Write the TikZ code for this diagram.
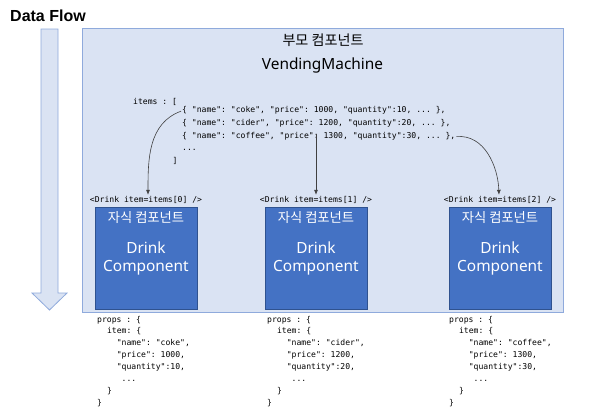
\documentclass[tikz,border=0pt]{standalone}
\usepackage{fontspec}
\setmainfont{Noto Sans}
\newfontfamily\krfont{Noto Sans CJK KR}
\newfontfamily\codefam{DejaVu Sans Mono}
\newfontfamily\headfam{Liberation Sans}
\usetikzlibrary{arrows.meta,calc}
\definecolor{panelfill}{HTML}{DAE3F3}
\definecolor{panelline}{HTML}{8FAADC}
\definecolor{childfill}{HTML}{4472C4}
\definecolor{childline}{HTML}{2F528F}
\definecolor{arrowgray}{HTML}{404040}
\frenchspacing
\begin{document}
\begin{tikzpicture}[x=1pt,y=-1pt,
  codeline/.style={font=\codefam\frenchspacing\fontsize{8.1}{10}\selectfont,inner sep=0pt,anchor=west,text height=6pt,text depth=2pt},
  childbox/.style={draw=childline,fill=childfill,line width=0.8pt,minimum width=102pt,minimum height=102pt,inner sep=0pt},
  childkr/.style={font=\krfont\fontsize{13.3}{15}\selectfont,text=white,inner sep=0pt},
  childen/.style={font=\fontsize{15.4}{18}\selectfont,text=white,inner sep=0pt},
  link/.style={draw=arrowgray,line width=0.6pt,-{Latex[length=5pt,width=4pt]}}
]
\useasboundingbox (0,0) rectangle (600,415);
\fill[white] (0,0) rectangle (600,415);

% Data Flow label and arrow
\node[font=\headfam\bfseries\fontsize{16}{18}\selectfont,anchor=west,inner sep=0pt] (df) at (10,15.5) {Data Flow};
\draw[fill=panelfill,draw=panelline,line width=0.8pt]
  (41,29) -- (58,29) -- (58,293) -- (67,293) -- (49.5,310) -- (32,293) -- (41,293) -- cycle;

% parent panel
\node[draw=panelline,fill=panelfill,line width=0.8pt,minimum width=481pt,minimum height=284pt,inner sep=0pt,anchor=north west] (panel) at (82,28) {};
\node[font=\krfont\fontsize{14.1}{16}\selectfont,inner sep=0pt] (t1) at (323,40) {부모 컴포넌트};
\node[font=\fontsize{15.4}{18}\selectfont,inner sep=0pt] (t2) at (322.5,65) {VendingMachine};

% items code
\node[codeline] (i0) at (133,102) {items : [};
\node[codeline] (i1) at (182,110.7) {\{ "name": "coke", "price": 1000, "quantity":10, ... \},};
\node[codeline] (i2) at (182,123.4) {\{ "name": "cider", "price": 1200, "quantity":20, ... \},};
\node[codeline] (i3) at (182,136.1) {\{ "name": "coffee", "price": 1300, "quantity":30, ... \},};
\node[codeline] (i4) at (182,148.8) {...};
\node[codeline] (i5) at (172.5,161.5) {]};

% child boxes
\foreach \n/\cx/\k in {1/146/0,2/316/1,3/500/2}{
  \node[codeline,anchor=center] (l\n) at (\cx,200) {<Drink item=items[\k] />};
  \node[childbox] (c\n) at (\cx,258) {};
  \node[childkr] (k\n) at (\cx,218) {자식 컴포넌트};
  \node[childen] (d\n) at (\cx,248) {Drink};
  \node[childen] (e\n) at (\cx,268) {Component};
}

% connectors
\coordinate (s2) at (316,134);
\draw[link] ($(i1.west)+(-1,0.5)$) to[out=200,in=90] ($(l1.north)+(2,-1)$);
\draw[link] (s2) -- ($(l2.north)+(0,-1)$);
\draw[link] ($(i3.east)+(1,0.5)$) to[out=5,in=92] ($(l3.north)+(-1,-1)$);

% props blocks
\foreach \n/\px/\nm/\pr/\q in {1/97/coke/1000/10,2/267/cider/1200/20,3/449/coffee/1300/30}{
  \node[codeline] (p\n a) at (\px,320) {props : \{};
  \node[codeline] (p\n b) at (\px+9.8,331.9) {item: \{};
  \node[codeline] (p\n c) at (\px+19.6,343.8) {"name": "\nm",};
  \node[codeline] (p\n d) at (\px+19.6,355.7) {"price": \pr,};
  \node[codeline] (p\n e) at (\px+19.6,367.6) {"quantity":\q,};
  \node[codeline] (p\n f) at (\px+24.5,379.5) {...};
  \node[codeline] (p\n g) at (\px+9.8,391.4) {\}};
  \node[codeline] (p\n h) at (\px,403.3) {\}};
}
\end{tikzpicture}
\end{document}
